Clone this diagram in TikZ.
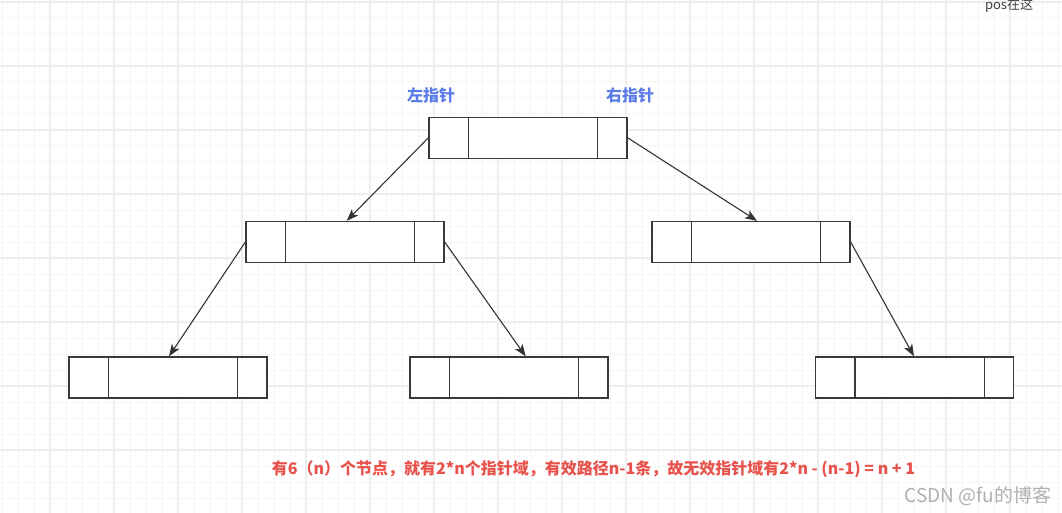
\documentclass[tikz,border=0pt]{standalone}
\usepackage{fontspec}
\newfontfamily\cjk{Noto Sans CJK SC}
\usetikzlibrary{arrows.meta}
\definecolor{gridminor}{HTML}{F5F5F5}
\definecolor{gridmajor}{HTML}{EEEEEE}
\definecolor{boxline}{HTML}{36393D}
\definecolor{lblblue}{HTML}{5B7BE8}
\definecolor{lblred}{HTML}{E8524C}
\definecolor{wmgray}{HTML}{B0B0B0}
\tikzset{
  cell/.style={draw=boxline, line width=1.3pt, fill=white, rectangle, minimum width=198pt, minimum height=41pt, inner sep=0pt},
  divider/.style={draw=boxline, line width=1.3pt},
  link/.style={draw=boxline!90!black, line width=1.1pt, -{Stealth[length=12pt,width=9pt,inset=3pt]}},
  ptrlabel/.style={font=\cjk\bfseries\fontsize{16}{19}\selectfont, text=lblblue, inner sep=0pt},
}
\begin{document}
\begin{tikzpicture}[x=1pt,y=-1pt]
\useasboundingbox (0,0) rectangle (1062,513);
\fill[white] (0,0) rectangle (1062,513);
% grid
\foreach \k in {0,...,66} {\draw[gridminor, line width=1pt] ({2+16*\k},0) -- ({2+16*\k},513);}
\foreach \k in {0,...,32} {\draw[gridminor, line width=1pt] (0,{2+16*\k}) -- (1062,{2+16*\k});}
\foreach \k in {0,...,16} {\draw[gridmajor, line width=1.2pt] ({50+64*\k-64},0) -- ({50+64*\k-64},513);}
\foreach \k in {0,...,8} {\draw[gridmajor, line width=1.2pt] (0,{2+64*\k}) -- (1062,{2+64*\k});}
% boxes
\node[cell] (root) at (528,137.8) {};
\node[cell] (l2a) at (345,242) {};
\node[cell] (l2b) at (751,242) {};
\node[cell] (l3a) at (168,377.5) {};
\node[cell] (l3b) at (509,377.5) {};
\node[cell] (l3c) at (914.5,377.5) {};
\foreach \b in {root,l2a,l2b,l3a,l3b,l3c} {
  \draw[divider] ([xshift=40pt]\b.north west) -- ([xshift=40pt]\b.south west);
  \draw[divider] ([xshift=-30pt]\b.north east) -- ([xshift=-30pt]\b.south east);
}
% links
\draw[link] (root.west) -- ([xshift=1.7pt]l2a.north);
\draw[link] (root.east) -- ([xshift=6pt]l2b.north);
\draw[link] (l2a.west) -- ([xshift=1pt]l3a.north);
\draw[link] (l2a.east) -- ([xshift=16.7pt]l3b.north);
\draw[link] (l2b.east) -- ([xshift=-0.5pt]l3c.north);
% labels
\node[ptrlabel] (lptr) at (431,95) {左指针};
\node[ptrlabel] (rptr) at (630,95) {右指针};
\node[font=\cjk\fontsize{13}{15}\selectfont, text=black!75, inner sep=0pt] (pos) at (1009,5) {pos在这};
\node[font=\cjk\bfseries\fontsize{16}{19}\selectfont, text=lblred, inner sep=0pt] (note) at (593.5,469) {有6（n）个节点，就有2*n个指针域，有效路径n-1条，故无效指针域有2*n - (n-1) = n + 1};
\node[font=\cjk\fontsize{19}{22}\selectfont, text=wmgray, inner sep=0pt] (wm) at (978,496) {CSDN @fu的博客};
\end{tikzpicture}
\end{document}
